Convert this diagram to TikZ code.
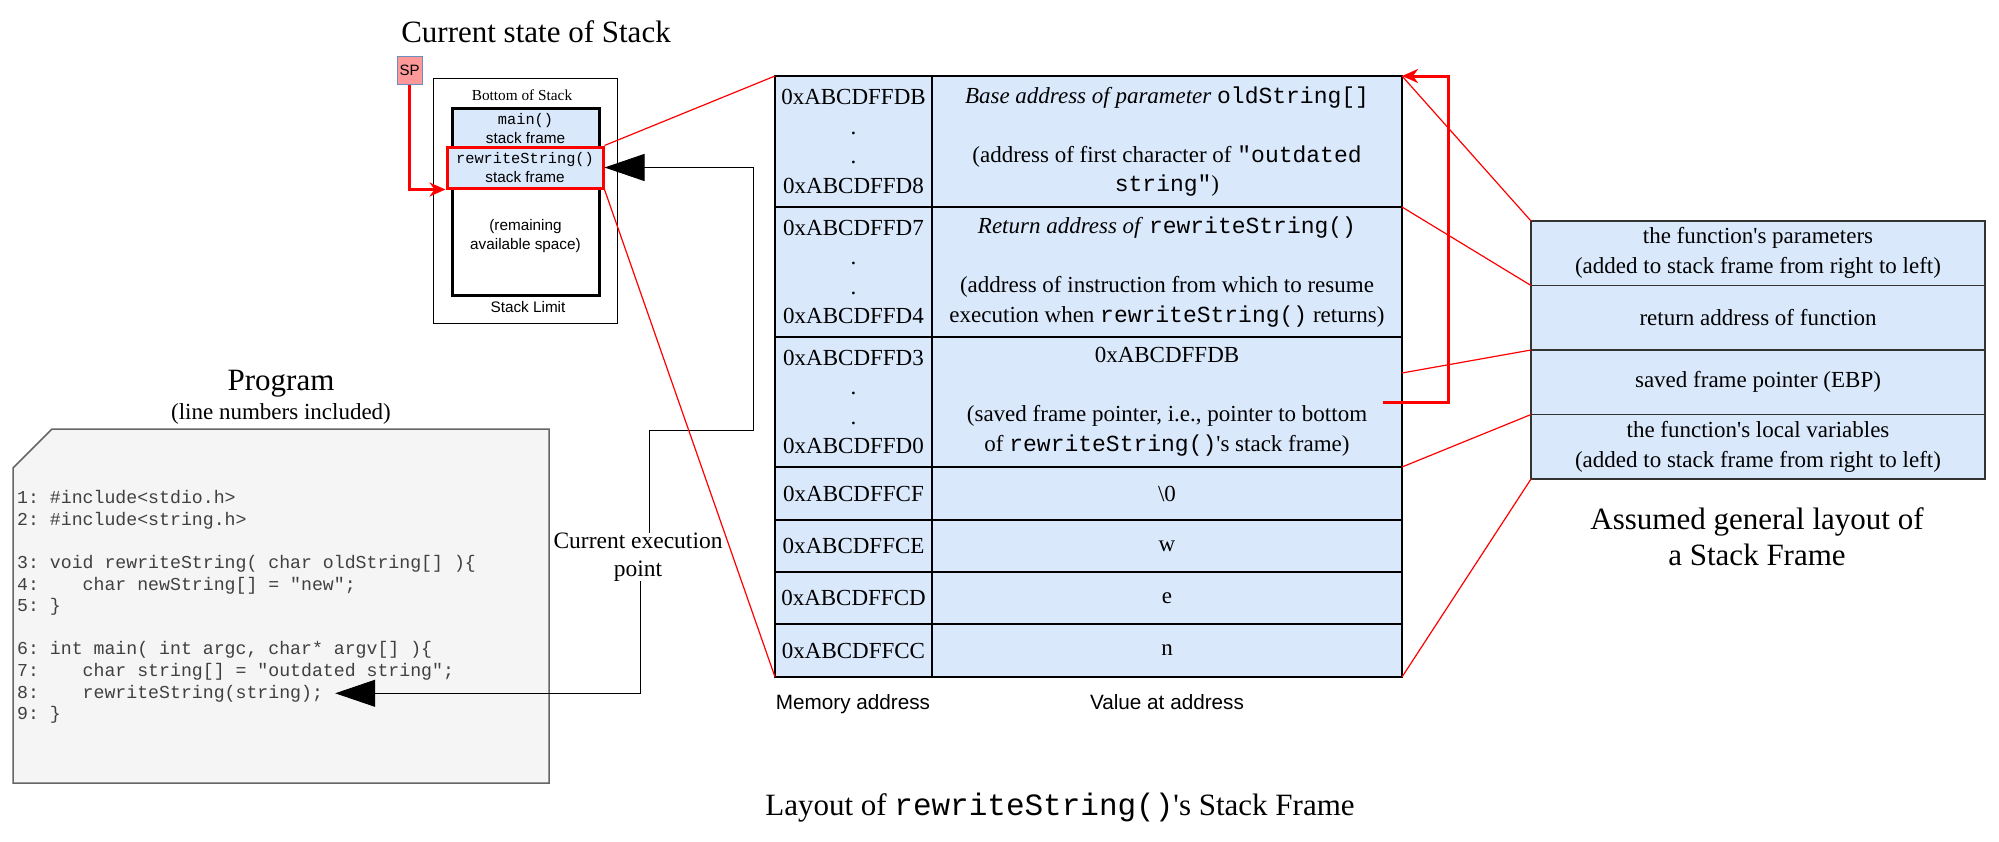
\documentclass[tikz,border=0pt]{standalone}
\usepackage{fontspec}
\setmainfont{Liberation Serif}
\setsansfont{Liberation Sans}
\setmonofont{Liberation Mono}
\usepackage{xcolor}
\usetikzlibrary{arrows.meta,positioning}

\definecolor{framefill}{HTML}{DAE8FC}
\definecolor{spfill}{HTML}{FF9999}
\definecolor{spline}{HTML}{6C8EBF}
\definecolor{progfill}{HTML}{F5F5F5}
\definecolor{progline}{HTML}{666666}
\definecolor{codegray}{HTML}{404040}

\newcommand{\bigsz}{\fontsize{31}{36}\selectfont}
\newcommand{\midsz}{\fontsize{23}{29.5}\selectfont}
\newcommand{\smallsz}{\fontsize{15.3}{19}\selectfont}
\newcommand{\codesp}{\hspace*{0.6em}}
\newcommand{\apos}{\textquotesingle}

\tikzset{
  cell/.style={draw, fill=framefill, line width=1.5pt, inner sep=0pt, outer sep=0pt,
    align=center, font=\midsz, anchor=north west},
  general/.style={draw=black!80, fill=framefill, line width=1.5pt, minimum width=454pt,
    minimum height=64.5pt, inner sep=0pt, outer sep=0pt, align=center,
    font=\fontsize{23}{30}\selectfont, anchor=north west},
  codeline/.style={anchor=base west, inner sep=0pt, text=codegray,
    font=\ttfamily\fontsize{18.2}{21.6}\selectfont},
  link/.style={red, line width=1.2pt},
  pointer/.style={red, line width=3pt, -{Stealth[length=16pt,width=14pt,inset=5pt]}},
  exectip/.style={line width=1pt, -{Triangle[length=40pt,width=27pt]}},
}

\begin{document}
\begin{tikzpicture}[x=1pt,y=-1pt]
\useasboundingbox (0,0) rectangle (1999,841);

% current state of the stack
\node[font=\bigsz, anchor=base] (stacktitle) at (536,42) {Current state of Stack};
\node[draw, line width=1pt, minimum width=184pt, minimum height=245pt] (stackout) at (525,200.5) {};
\node[font=\smallsz, anchor=base] (bottom) at (522,100) {Bottom of Stack};
\node[draw, fill=white, line width=3pt, minimum width=147pt, minimum height=187pt] (stackin) at (525.5,201.5) {};
\node[fill=framefill, minimum width=144pt, minimum height=38pt, inner sep=0pt, align=center,
  font=\sffamily\smallsz] (mainfr) at (525.5,128.5) {\texttt{main()}\\stack frame};
\node[draw=red, fill=framefill, line width=3pt, minimum width=156pt, minimum height=41pt, inner sep=0pt,
  align=center, font=\sffamily\smallsz] (curframe) at (525,167.5) {\texttt{rewriteString()}\\stack frame};
\node[align=center, font=\sffamily\smallsz] (free) at (525.5,236) {(remaining\\available space)};
\node[font=\sffamily\smallsz, anchor=base] (limit) at (528,312) {Stack Limit};
\node[draw=spline, fill=spfill, line width=1pt, minimum width=25pt, minimum height=28pt, inner sep=0pt,
  font=\sffamily\fontsize{15}{18}\selectfont] (sp) at (409.5,70) {SP};

% the program
\node[font=\bigsz, anchor=base] (progtitle) at (281,390) {Program};
\node[font=\fontsize{23}{28}\selectfont, anchor=base] (prognote) at (281,419) {(line numbers included)};
\draw[fill=progfill, draw=progline, line width=1.5pt] (52,429) -- (549,429) -- (549,783) -- (13,783) -- (13,468) -- cycle;
\node[codeline] (c1) at (17,503.5) {1:\codesp\#include<stdio.h>};
\node[codeline] (c2) at (17,525) {2:\codesp\#include<string.h>};
\node[codeline] (c3) at (17,568) {3:\codesp void\codesp rewriteString(\codesp char\codesp oldString[]\codesp)\{};
\node[codeline] (c4) at (17,590) {4:\codesp\codesp\codesp\codesp char\codesp newString[]\codesp=\codesp"new";};
\node[codeline] (c5) at (17,611.5) {5:\codesp\}};
\node[codeline] (c6) at (17,654.5) {6:\codesp int\codesp main(\codesp int\codesp argc,\codesp char*\codesp argv[]\codesp)\{};
\node[codeline] (c7) at (17,676) {7:\codesp\codesp\codesp\codesp char\codesp string[]\codesp=\codesp"outdated\codesp string";};
\node[codeline] (c8) at (17,698) {8:\codesp\codesp\codesp\codesp rewriteString(string);};
\node[codeline] (c9) at (17,719.5) {9:\codesp\}};

% layout of the frame
\node[cell, minimum width=157pt, minimum height=131pt] (a1) at (775,76) {0xABCDFFDB\\.\\.\\0xABCDFFD8};
\node[cell, minimum width=470pt, minimum height=131pt, right=0pt of a1] (v1)
  {\textit{Base address of parameter} \texttt{oldString[]}\\[29.5pt](address of first character of \texttt{"outdated}\\\texttt{string"})};
\node[cell, minimum width=157pt, minimum height=130pt] (a2) at (775,207) {0xABCDFFD7\\.\\.\\0xABCDFFD4};
\node[cell, minimum width=470pt, minimum height=130pt, right=0pt of a2] (v2)
  {\textit{Return address of} \texttt{rewriteString()}\\[29.5pt](address of instruction from which to resume\\execution when \texttt{rewriteString()} returns)};
\node[cell, minimum width=157pt, minimum height=130pt] (a3) at (775,337) {0xABCDFFD3\\.\\.\\0xABCDFFD0};
\node[cell, minimum width=470pt, minimum height=130pt, right=0pt of a3] (v3)
  {0xABCDFFDB\\[29.5pt](saved frame pointer, i.e., pointer to bottom\\of \texttt{rewriteString()}\apos s stack frame)};
\node[cell, minimum width=157pt, minimum height=53pt] (a4) at (775,467) {0xABCDFFCF};
\node[cell, minimum width=470pt, minimum height=53pt, right=0pt of a4] (v4) {\textbackslash 0};
\node[cell, minimum width=157pt, minimum height=52pt] (a5) at (775,520) {0xABCDFFCE};
\node[cell, minimum width=470pt, minimum height=52pt, right=0pt of a5] (v5) {w};
\node[cell, minimum width=157pt, minimum height=52pt] (a6) at (775,572) {0xABCDFFCD};
\node[cell, minimum width=470pt, minimum height=52pt, right=0pt of a6] (v6) {e};
\node[cell, minimum width=157pt, minimum height=53pt] (a7) at (775,624) {0xABCDFFCC};
\node[cell, minimum width=470pt, minimum height=53pt, right=0pt of a7] (v7) {n};
\node[font=\sffamily\fontsize{20.7}{24}\selectfont, anchor=base] (addrlabel) at (853,709) {Memory address};
\node[font=\sffamily\fontsize{20.7}{24}\selectfont, anchor=base] (vallabel) at (1167,709) {Value at address};
\node[font=\bigsz, anchor=base] (layouttitle) at (1060,815) {Layout of \texttt{rewriteString()}\apos s Stack Frame};

% general layout
\node[general] (g1) at (1531,221) {the function\apos s parameters\\(added to stack frame from right to left)};
\node[general, below=0pt of g1] (g2) {return address of function};
\node[general, below=0pt of g2] (g3) {saved frame pointer (EBP)};
\node[general, below=0pt of g3] (g4) {the function\apos s local variables\\(added to stack frame from right to left)};
\node[font=\bigsz, align=center] (gentitle) at (1757,537) {Assumed general layout of\\a Stack Frame};

% connectors
\node[font=\fontsize{23.5}{28}\selectfont, align=center, inner sep=0pt] (exec) at (638,557) {Current execution\\point};
\coordinate (turn) at (753,430);
\draw[exectip] ([xshift=11pt]exec.north) |- (turn) |- (curframe.east);
\draw[exectip] ([xshift=2pt]exec.south) |- ([xshift=12pt]c8.east);

\draw[link] (curframe.north east) -- (a1.north west);
\draw[link] (curframe.south east) -- (a7.south west);
\draw[link] (v1.north east) -- (g1.north west);
\draw[link] (v1.south east) -- (g1.south west);
\draw[link] ([yshift=-36pt]v3.north east) -- (g2.south west);
\draw[link] (v3.south east) -- (g3.south west);
\draw[link] (v7.south east) -- (g4.south west);

\draw[pointer] ([xshift=-19pt]v3.east) -- ++(65,0) |- (v1.north east);
\draw[pointer] (sp.south) |- (curframe.south west);
\end{tikzpicture}
\end{document}
